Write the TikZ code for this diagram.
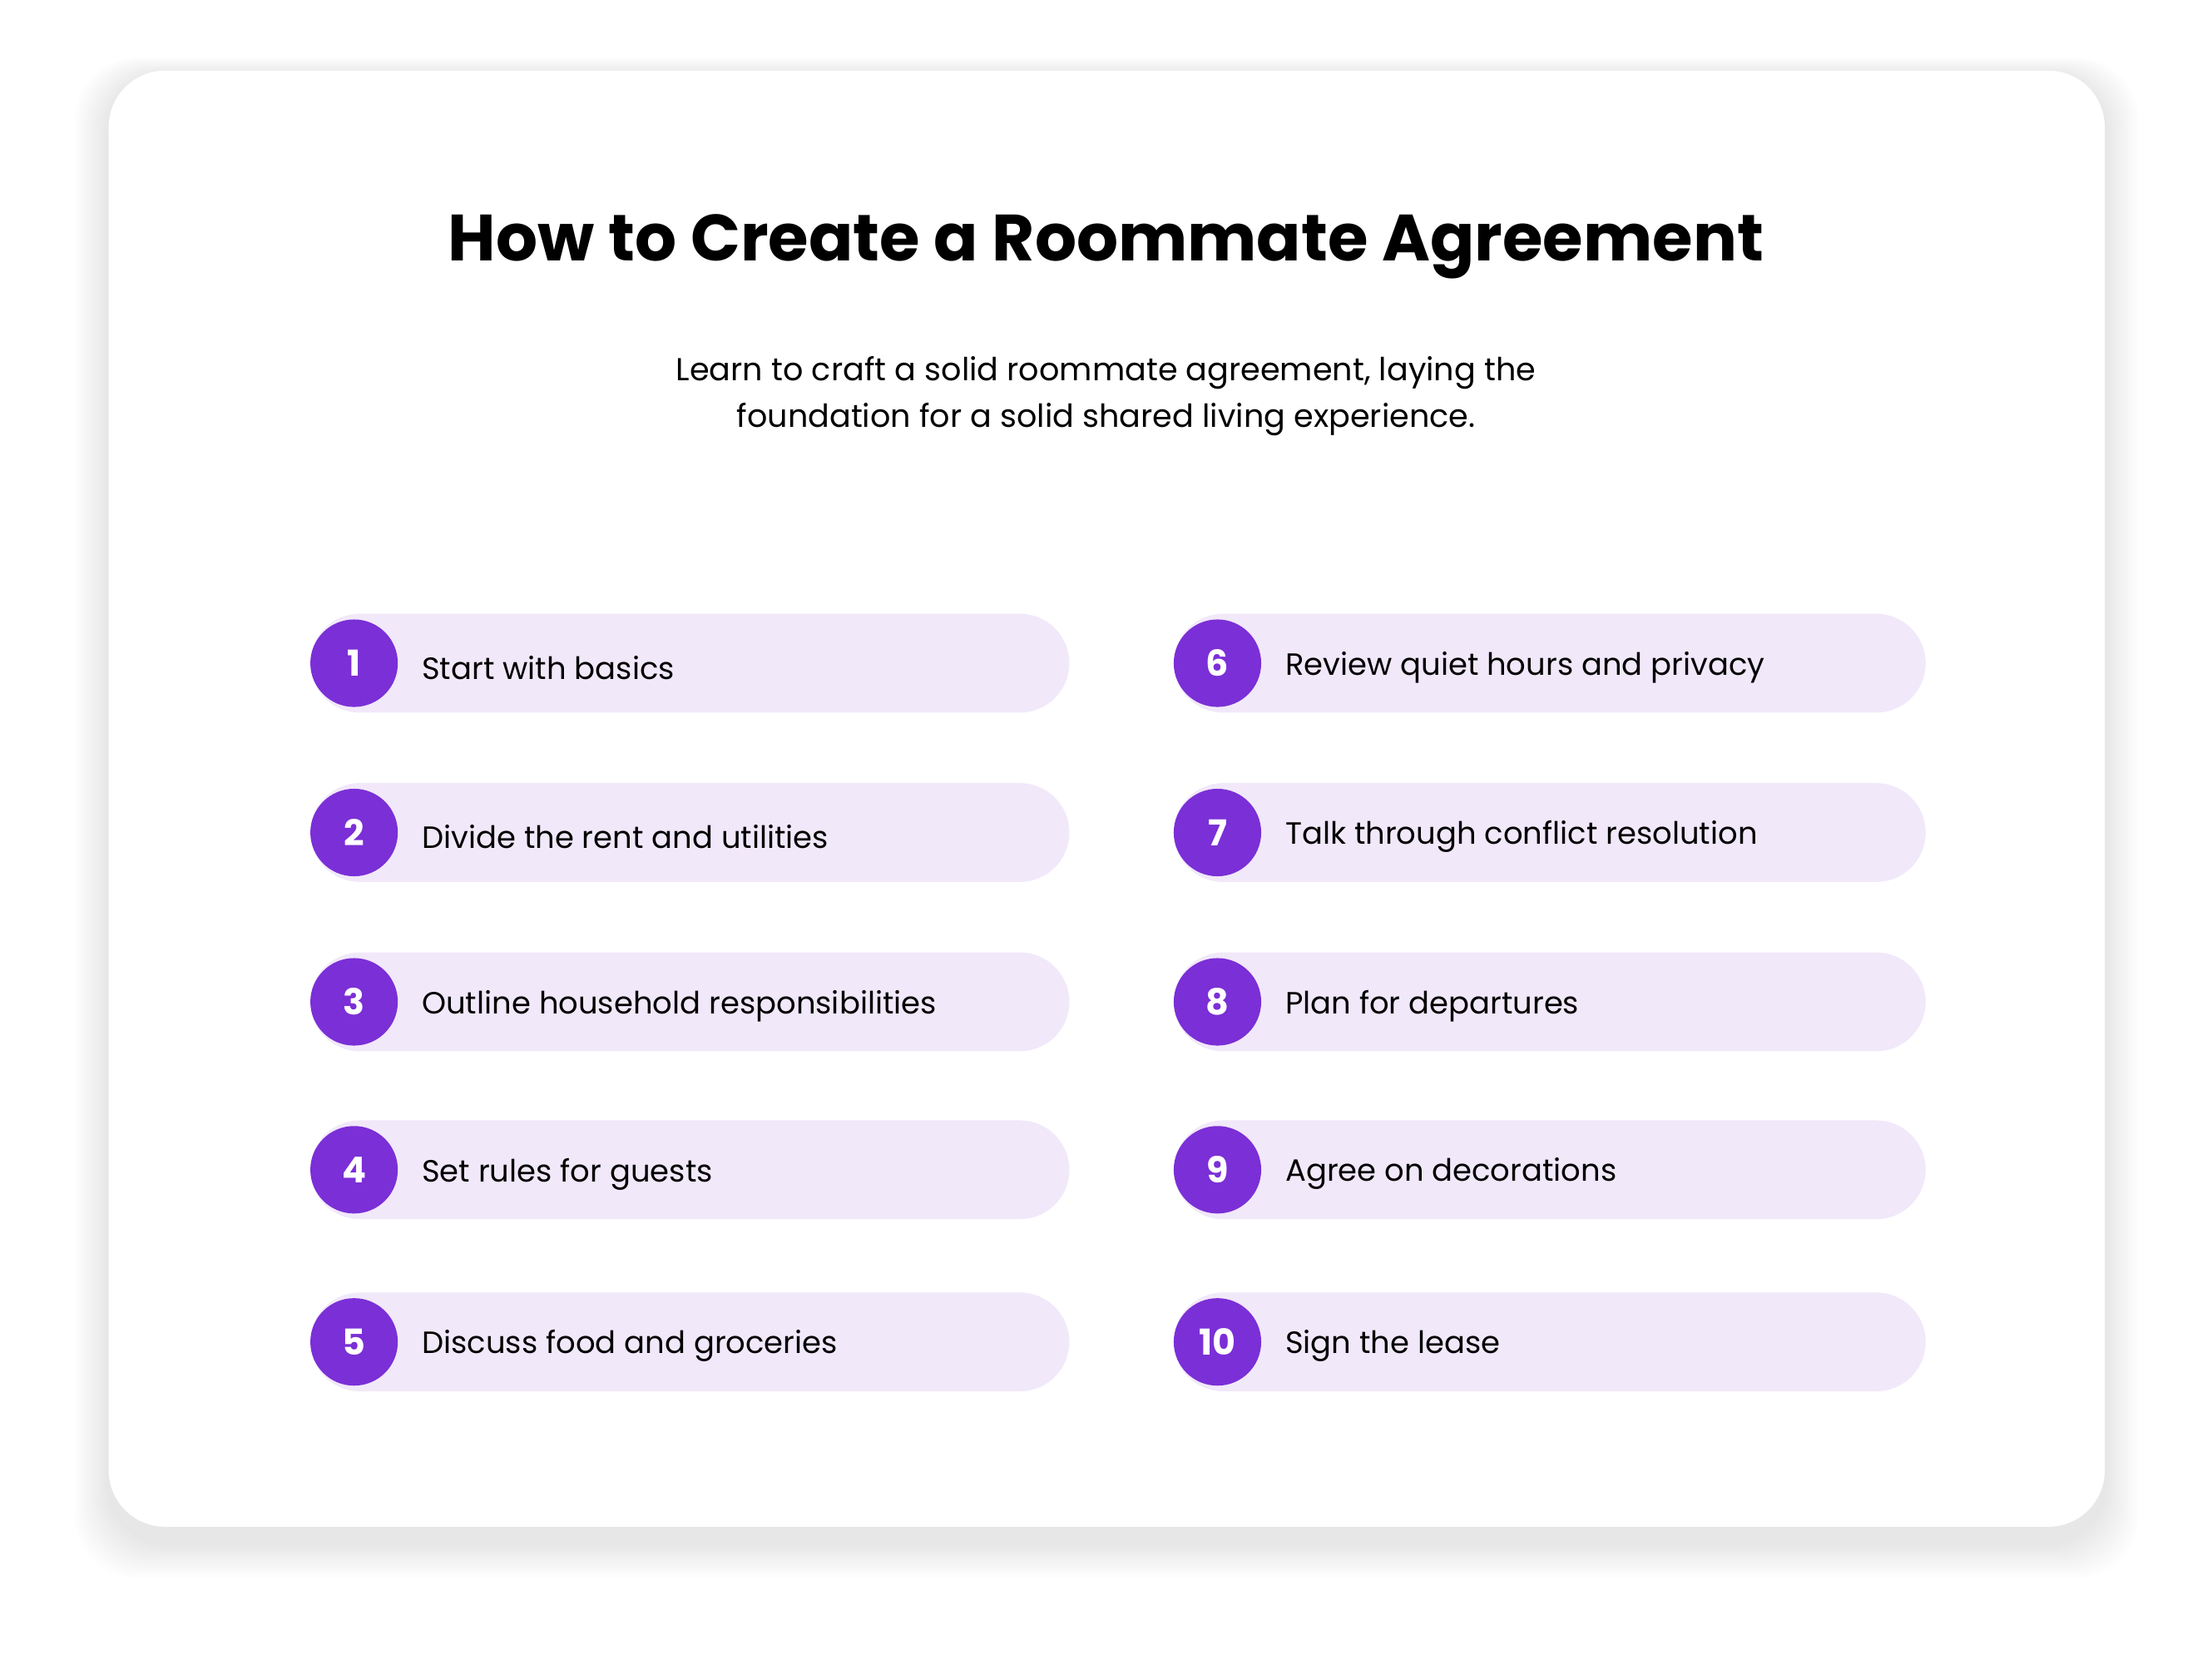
\documentclass[tikz,border=0pt]{standalone}
\usepackage{fontspec}
\setmainfont{Poppins}
\definecolor{purp}{HTML}{7B2FD6}
\definecolor{pill}{HTML}{F1E8FA}
\begin{document}
\begin{tikzpicture}[x=0.05cm,y=-0.05cm,
  pillbox/.style={fill=pill,rounded corners=17.5mm,draw=none},
  numc/.style={circle,fill=purp,minimum size=3.1cm,inner sep=0pt,text=white,font=\fontsize{36}{40}\selectfont\bfseries},
  lab/.style={anchor=west,inner sep=0pt,font=\fontsize{31}{36}\selectfont\mdseries}]
\useasboundingbox (0,0) rectangle (1568,1183);
\fill[white] (0,0) rectangle (1568,1183);
\foreach \i in {1,...,12}{
  \fill[black,opacity=0.008,rounded corners=2.2cm] (77-2*\i,50+3-\i) rectangle (1492+2*\i,1082+12+2*\i);
}
\node[fill=white,rounded corners=2cm,minimum width=70.75cm,minimum height=51.6cm,inner sep=0pt] (card) at (784.5,566) {};
\node[font=\fontsize{66}{70}\selectfont\bfseries] (title) at (784,175) {How to Create a Roommate Agreement};
\node[align=center,font=\fontsize{32}{47}\selectfont] (sub) at (784,281) {Learn to craft a solid roommate agreement, laying the\\foundation for a solid shared living experience.};
\foreach \n/\t/\y in {1/Start with basics/470,2/Divide the rent and utilities/590,3/Outline household responsibilities/710,4/Set rules for guests/829,5/Discuss food and groceries/951}{
  \fill[pillbox] (220,\y-35) rectangle (758,\y+35);
  \node[numc] (n\n) at (251,\y) {\n};
  \node[lab] (l\n) at (299,\y+3) {\t};
}
\foreach \n/\t/\y in {6/Review quiet hours and privacy/470,7/Talk through conflict resolution/590,8/Plan for departures/710,9/Agree on decorations/829,10/Sign the lease/951}{
  \fill[pillbox] (832,\y-35) rectangle (1365,\y+35);
  \node[numc] (n\n) at (863,\y) {\n};
  \node[lab] (l\n) at (911,\y+3) {\t};
}
\end{tikzpicture}
\end{document}
